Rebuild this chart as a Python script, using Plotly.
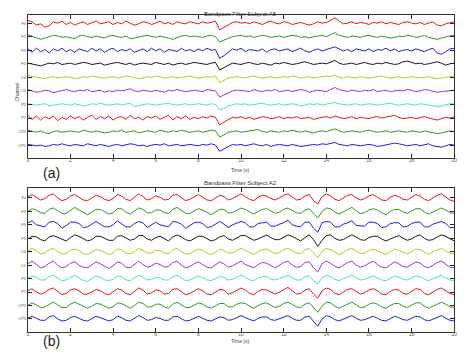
import numpy as np
import plotly.graph_objects as go

channels = ["Fz", "F2", "F3", "F5", "C4", "C5", "P2", "P7", "CP2", "CP1"]
colors = ["#e8141c", "#2e9a22", "#1c1cf0", "#1a1a1a", "#bccb18", "#9a32e2", "#3fe8bb", "#e8141c", "#2e9a22", "#1c1cf0"]
time_s = np.linspace(0, 20, 101)
spacing = 20

# Panel (a): Bandpass Filter Subject A5
a_Fz = [4,2,-3,-1,-6,-4,2,0,3,-2, 1,-3,0,2,-2,1,3,-1,0,2, -2,1,-1,3,0,-3,-1,2,1,-2, 0,3,-1,1,-2,2,0,-1,2,1,
        -1,2,0,1,3,-10,-6,-2,1,2, 0,1,-1,2,0,-2,1,3,0,-1, 2,1,-2,0,1,-1,-3,-1,2,0, 1,4,8,3,-1,0,2,-1,1,0,
        -2,1,0,2,-1,1,0,-2,1,2, 0,-1,1,-2,0,2,-3,-4,-1,1, 2]
a_F2 = [3,1,-1,-4,-2,0,2,1,-1,0, -2,-3,1,2,0,-1,1,0,-2,1, 2,0,-1,1,-3,-2,0,1,2,0, -1,1,0,-2,-4,-1,1,2,0,1,
        0,-1,1,2,0,-8,-5,-2,0,1, 2,0,1,-1,0,2,1,-1,0,1, -1,0,2,1,-1,0,-2,0,1,2, 0,3,6,2,0,-1,1,0,-1,1,
        2,0,-1,1,0,-2,-1,1,0,2, 1,-1,0,2,-1,-3,-4,-2,0,1, 2]
a_F3 = [2,-3,3,-2,1,-4,2,-1,3,-2, 1,-3,2,0,-2,3,-1,2,-3,1, 3,-2,1,-1,2,-3,0,2,-2,3, -1,2,-3,1,0,-2,3,-1,1,-2,
        2,-1,3,0,1,-12,-8,-3,2,0, 3,-2,1,0,-1,2,-3,1,2,-1, 0,2,-2,1,3,-1,-3,0,2,-1, 1,3,5,2,-1,1,-2,2,0,-1,
        2,-2,1,0,3,-1,2,-2,0,1, -1,2,0,-2,1,3,-4,-6,-2,2, 3]
a_F5 = [1,0,-2,-3,-1,1,0,2,-1,0, 1,-1,0,2,1,-1,0,1,-2,0, 1,2,0,-1,1,-2,0,1,0,-1, 2,0,-1,1,-2,0,1,-1,0,2,
        1,0,-1,1,2,-9,-6,-2,1,0, -1,1,2,0,-1,1,0,-2,1,0, 2,1,-1,0,1,3,1,-1,0,1, 0,2,5,1,-1,0,1,-1,0,2,
        0,-1,1,0,2,1,-1,0,3,4, 2,0,1,-1,0,2,3,1,-2,0, 1]
a_C4 = [3,2,0,-1,-2,0,1,-1,0,1, 0,-2,-1,1,0,2,1,0,-1,0, 1,-1,0,2,1,0,-2,-1,1,0, 2,1,-1,0,1,-1,0,1,2,0,
        -1,0,1,0,2,-8,-5,-1,0,1, 0,-1,1,2,0,-1,0,1,-1,0, 1,0,2,1,-1,0,1,-1,0,1, 2,1,3,0,-1,1,0,-1,1,0,
        -1,0,1,2,0,-1,0,1,-1,0, 1,0,-1,0,1,-1,-2,-1,0,1, 2]
a_C5 = [2,0,-2,-1,1,0,-3,-1,1,2, 0,-1,1,0,2,-1,0,1,-2,0, -1,1,0,2,3,0,-1,1,0,-1, 1,0,-2,1,0,2,1,-1,0,1,
        0,-1,2,1,0,-9,-6,-2,0,1, 1,0,-1,2,0,-1,1,0,2,-1, 0,1,-1,0,2,1,-2,0,1,0, -1,2,5,2,0,-1,1,0,-1,1,
        0,2,-1,0,1,-1,0,1,0,2, 1,-1,0,2,1,0,-2,-1,0,1, 1]
a_P2 = [1,0,-1,0,1,-2,-1,0,1,0, -1,1,0,-2,-1,1,0,2,0,-1, 0,1,-1,0,2,-3,-2,0,1,0, -1,0,1,2,0,-1,0,1,-1,0,
        1,0,-1,1,0,-8,-6,-2,0,1, 0,1,-1,0,1,2,0,-1,0,1, -1,0,1,0,-2,-1,1,0,1,-1, 0,1,3,1,0,-1,0,1,-1,0,
        1,0,-1,0,1,2,0,-1,0,1, 0,-1,1,0,-1,-2,-3,-2,0,1, 1]
a_P7 = [4,-2,3,-3,2,-1,3,-4,1,-2, 3,-1,2,-3,1,4,-2,2,-1,3, -3,1,2,-2,4,-1,1,-3,2,0, 3,-2,1,4,-3,2,-1,3,-2,1,
        -1,2,0,3,1,-10,-6,-2,1,0, 2,-1,1,-2,0,2,1,-1,0,2, -1,1,0,2,-1,0,1,-2,0,1, 2,0,3,1,-1,0,2,-1,1,0,
        -1,1,2,0,1,3,4,1,-1,0, 1,-1,0,2,0,-2,-3,-1,1,0, 2]
a_CP2 = [2,0,-1,1,-2,-3,0,1,-1,0, 1,0,-1,2,0,-1,1,0,-2,-1, 1,0,2,-1,0,1,-2,0,1,0, -1,2,0,-1,1,0,2,1,-1,0,
         1,-1,0,2,1,-8,-5,-1,0,1, -1,0,1,2,3,0,-1,1,0,-1, 1,0,2,0,-1,1,0,-2,0,1, 0,2,4,1,-1,0,1,0,-1,1,
         2,0,-1,0,1,-1,0,1,0,-1, 1,0,-1,1,0,-2,-3,-2,0,1, 0]
a_CP1 = [1,0,-1,0,-2,-1,1,0,2,0, -1,1,0,-1,2,0,-1,1,0,-2, 0,1,-1,0,2,1,-1,0,-2,0, 1,0,2,-1,0,1,-1,0,1,0,
         -1,1,0,2,0,-9,-6,-2,1,0, 1,-1,0,2,0,-1,1,-2,0,1, 0,-1,1,0,-2,-1,0,1,0,2, 1,3,4,1,0,-1,1,0,-1,0,
         1,0,-2,-1,0,1,3,2,0,-1, 0,1,-1,0,2,-1,-2,-3,-1,1, 0]

# Panel (b): Bandpass Filter Subject A2
b_Fz = [2,5,1,-3,-1,4,6,0,-4,-2, 3,5,1,-3,-4,0,4,2,-2,-4, -1,5,3,-2,-4,1,6,2,-3,-1, 3,1,-3,-2,4,5,0,-4,-2,2,
        5,1,-3,-4,0,4,2,-3,-1,3, 6,2,-2,-4,1,4,3,-1,-3,0, 4,6,1,-3,-2,3,5,-4,-9,2, 6,3,-2,-4,0,4,5,0,-3,-1,
        3,5,1,-3,-4,1,4,2,-2,-3, 1,5,3,-2,-4,0,4,6,1,-3, -5]
b_F2 = [0,4,2,-2,-3,3,5,1,-3,-3, 2,6,2,-2,-5,-1,3,3,-1,-4, -2,4,4,-1,-4,0,5,3,-2,-2, 2,2,-2,-3,3,6,1,-3,-3,1,
        4,2,-2,-5,-1,3,3,-2,-2,2, 5,3,-1,-4,0,3,4,0,-3,-1, 3,5,2,-2,-3,2,4,-3,-10,0, 5,4,-1,-4,-1,3,6,1,-3,-2,
        2,4,2,-2,-5,0,3,3,-1,-3, 0,4,4,-1,-4,-1,3,5,2,-2, -3]
b_F3 = [3,6,0,-2,-3,4,5,2,-5,-1, 4,4,2,-4,-3,1,5,1,-3,-3, 0,6,2,-3,-3,2,5,3,-4,0, 4,0,-2,-3,5,4,1,-5,-1,3,
        4,2,-4,-3,1,5,1,-4,0,2, 5,3,-3,-3,2,3,4,-2,-2,1, 3,7,0,-2,-3,4,4,-5,-11,3, 5,4,-3,-3,1,3,6,-1,-2,-2,
        4,4,2,-4,-3,2,3,3,-3,-2, 2,4,4,-3,-3,1,3,5,2,-4, -4]
b_F5 = [-1,3,2,-2,-4,2,4,1,-2,-4, 1,5,3,-1,-4,-2,3,3,0,-3, -3,3,4,0,-3,-1,4,4,-1,-3, 1,3,-1,-4,2,5,2,-2,-4,0,
        3,3,-1,-4,-2,2,4,-1,-3,1, 4,4,0,-3,-1,2,5,1,-2,-2, 2,5,3,-1,-4,1,5,-2,-12,-3, 4,5,0,-3,-2,2,5,2,-2,-3,
        1,3,3,-1,-4,-1,2,4,0,-3, -1,3,5,0,-3,-2,2,5,3,-1, -4]
b_C4 = [1,5,2,-3,-2,3,5,0,-3,-3, 2,4,2,-3,-4,0,3,2,-1,-4, -2,4,3,-2,-3,0,5,2,-2,-2, 2,2,-2,-3,3,5,0,-3,-3,1,
        4,2,-2,-4,-1,4,2,-2,-2,2, 5,2,-1,-4,0,3,4,0,-3,-1, 3,5,1,-2,-3,3,5,-2,-9,1, 5,3,-1,-4,-1,3,5,1,-3,-2,
        2,4,1,-2,-4,0,4,2,-1,-3, 0,4,3,-1,-4,0,3,5,1,-2, -3]
b_C5 = [2,6,1,-4,-2,3,6,0,-4,-2, 3,5,0,-3,-4,1,5,2,-2,-5, -1,5,3,-3,-4,1,6,1,-3,-1, 3,1,-3,-2,4,6,0,-4,-2,2,
        5,1,-3,-4,0,5,2,-3,-1,3, 6,1,-2,-4,1,4,3,-1,-4,0, 4,6,0,-3,-2,4,5,-4,-10,2, 6,3,-2,-4,0,4,6,0,-3,-1,
        3,6,1,-3,-4,1,5,2,-2,-3, 1,5,3,-2,-4,0,4,6,1,-3, -4]
b_P2 = [1,4,2,-2,-2,3,5,1,-3,-2, 2,5,1,-3,-4,0,4,2,-2,-3, -1,4,3,-2,-3,1,5,2,-2,-1, 2,1,-2,-2,3,5,1,-3,-2,1,
        4,1,-2,-3,0,3,2,-2,-1,2, 5,2,-2,-3,1,3,3,-1,-2,0, 3,5,1,-2,-2,3,4,-3,-8,1, 5,3,-1,-3,0,3,5,1,-2,-1,
        2,4,1,-2,-3,1,4,2,-1,-2, 1,4,3,-1,-3,0,3,5,1,-2, -3]
b_P7 = [2,5,0,-3,-1,4,6,1,-4,-2, 3,5,2,-3,-3,0,4,2,-2,-4, 0,5,3,-2,-4,1,6,3,-3,-1, 3,2,-3,-2,4,5,1,-4,-2,2,
        5,2,-3,-4,0,4,3,-3,-1,3, 6,3,-2,-4,1,4,3,0,-3,0, 4,7,2,-3,-2,3,5,-3,-9,2, 6,4,-2,-4,0,4,5,1,-3,-1,
        3,5,2,-3,-4,1,4,3,-2,-3, 1,5,4,-2,-4,0,4,6,2,-2, -4]
b_CP2 = [0,4,1,-3,-2,2,5,1,-3,-3, 2,5,2,-2,-4,-1,3,2,-1,-4, -2,4,3,-1,-4,0,5,3,-2,-2, 2,2,-2,-4,2,5,1,-3,-3,1,
         4,2,-2,-4,-1,3,3,-2,-2,2, 4,3,-1,-4,0,3,4,0,-3,-1, 3,5,2,-2,-3,2,4,-3,-10,-1, 5,4,-1,-4,-1,3,5,1,-3,-2,
         2,4,2,-2,-4,0,3,3,-1,-3, 0,4,4,-1,-4,-1,3,5,2,-2, -3]
b_CP1 = [1,4,1,-2,-2,3,5,0,-3,-2, 2,4,1,-2,-3,0,4,2,-1,-3, -1,4,2,-2,-3,1,5,2,-2,-1, 2,1,-2,-2,3,4,0,-3,-2,1,
         4,1,-2,-3,0,3,2,-2,-1,2, 5,2,-1,-3,1,3,3,-1,-2,0, 3,5,1,-2,-2,3,4,-4,-11,0, 5,3,-1,-3,0,3,5,1,-2,-1,
         2,4,1,-2,-3,1,4,2,-1,-2, 1,4,3,-1,-3,0,3,5,1,-2, -3]

panel_a = [a_Fz, a_F2, a_F3, a_F5, a_C4, a_C5, a_P2, a_P7, a_CP2, a_CP1]
panel_b = [b_Fz, b_F2, b_F3, b_F5, b_C4, b_C5, b_P2, b_P7, b_CP2, b_CP1]
offsets = [spacing * (10 - k) for k in range(10)]

fig = go.Figure()
for k, sig in enumerate(panel_a):
    fig.add_trace(go.Scatter(x=time_s, y=np.array(sig) + offsets[k], mode="lines",
                             line=dict(color=colors[k], width=1), xaxis="x", yaxis="y",
                             showlegend=False, hoverinfo="skip"))
for k, sig in enumerate(panel_b):
    fig.add_trace(go.Scatter(x=time_s, y=np.array(sig) + offsets[k], mode="lines",
                             line=dict(color=colors[k], width=1), xaxis="x2", yaxis="y2",
                             showlegend=False, hoverinfo="skip"))

W, H = 474, 363
OFF = 8  # page body margin: figure is drawn starting 8px right/down


def px(xp):
    return (xp - OFF) / W


def py(yp):
    return 1 - (yp - OFF) / H


xd = [px(27), px(457)]
ya = [py(158), py(15)]
yb = [py(332), py(188)]

xaxis_common = dict(range=[0, 20], tickmode="array", tickvals=list(range(0, 21, 2)),
                    ticks="inside", ticklen=4, tickcolor="#222", showgrid=False, zeroline=False,
                    showline=True, linecolor="#333", linewidth=1, mirror="ticks",
                    ticklabelstandoff=-3,
                    tickfont=dict(size=5, color="#555", family="Arial"))
yaxis_common = dict(tickmode="array", tickvals=offsets, ticktext=channels,
                    ticks="inside", ticklen=4, tickcolor="#222", showgrid=False, zeroline=False,
                    showline=True, linecolor="#333", linewidth=1, mirror="ticks",
                    tickfont=dict(size=4, color="#555", family="Arial"))

fig.update_layout(
    width=W, height=H, margin=dict(l=0, r=0, t=0, b=0),
    paper_bgcolor="white", plot_bgcolor="white",
    xaxis=dict(domain=xd, anchor="y", **xaxis_common),
    yaxis=dict(domain=ya, anchor="x", range=[1, 212], **yaxis_common),
    xaxis2=dict(domain=xd, anchor="y2", **xaxis_common),
    yaxis2=dict(domain=yb, anchor="x2", range=[0.6, 214.8], **yaxis_common),
    annotations=[
        dict(text="Bandpass Filter Subject A5", x=px(241), y=py(9), xref="paper", yref="paper",
             showarrow=False, font=dict(size=6, color="#333", family="Arial")),
        dict(text="Bandpass Filter Subject A2", x=px(241), y=py(183), xref="paper", yref="paper",
             showarrow=False, font=dict(size=6, color="#333", family="Arial")),
        dict(text="Time (s)", x=px(241), y=py(170), xref="paper", yref="paper",
             showarrow=False, font=dict(size=5, color="#444", family="Arial")),
        dict(text="Time (s)", x=px(241), y=py(346), xref="paper", yref="paper",
             showarrow=False, font=dict(size=5, color="#444", family="Arial")),
        dict(text="Channel", x=px(11), y=py(80), xref="paper", yref="paper", textangle=-90,
             showarrow=False, font=dict(size=5, color="#444", family="Arial")),
        dict(text="(a)", x=px(40), y=py(173), xref="paper", yref="paper",
             showarrow=False, font=dict(size=14, color="#222", family="Arial")),
        dict(text="(b)", x=px(40), y=py(351), xref="paper", yref="paper",
             showarrow=False, font=dict(size=14, color="#222", family="Arial")),
    ],
)

fig.write_html("out.html")
